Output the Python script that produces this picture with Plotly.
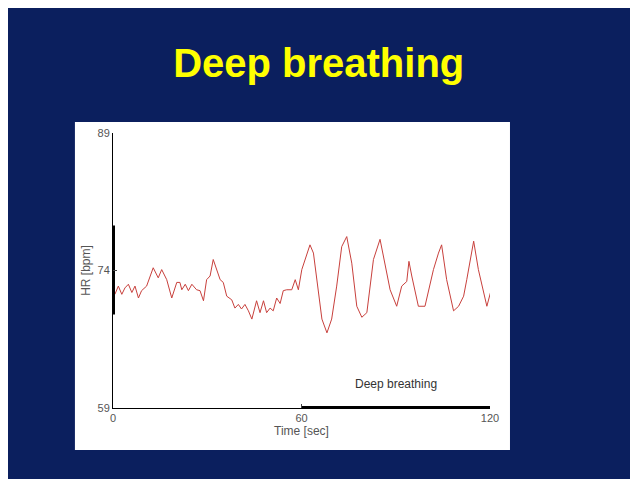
import plotly.graph_objects as go

# heart rate trace
time_s = [0.6, 1.7, 2.8, 3.8, 4.9, 6.0, 7.0, 8.1, 9.1, 10.7, 12.8, 14.4, 15.5, 17.1, 18.7,
          20.3, 21.3, 21.9, 23.0, 24.0, 25.1, 26.6, 27.7, 28.8, 29.8, 30.9, 31.9, 33.0, 34.1,
          35.1, 36.2, 37.8, 38.8, 39.9, 40.9, 42.0, 43.1, 44.2, 45.7, 46.8, 47.9, 48.9, 50.0,
          51.0, 52.1, 53.2, 54.2, 55.3, 56.9, 58.0, 59.0, 60.1, 61.7, 62.7,
          63.8, 65.4, 66.5, 68.1, 69.6, 71.2, 72.8, 74.4, 76.0, 77.6, 79.2, 80.8, 82.9, 85.0,
          86.6, 88.2, 90.3, 91.9, 93.5, 94.2, 95.1, 97.2, 99.3, 100.9, 102.0, 103.6, 104.6,
          106.2, 108.4, 110.0, 111.6, 112.6, 114.8, 116.3, 119.0, 121.0]
hr_bpm = [71.4, 72.3, 71.4, 72.1, 72.5, 71.6, 72.3, 71.0, 71.8, 72.3, 74.3, 73.2, 74.1, 73.0, 71.0,
          72.7, 72.7, 71.9, 72.5, 71.8, 72.5, 71.9, 71.8, 70.7, 73.0, 73.4, 75.2, 74.1, 73.0,
          72.7, 71.2, 70.8, 69.9, 70.3, 69.8, 70.3, 69.6, 68.7, 70.7, 69.4, 70.7, 69.4, 69.9,
          69.6, 71.0, 70.4, 71.8, 71.9, 71.9, 73.0, 71.9, 74.1, 75.9, 76.8,
          75.9, 71.6, 68.7, 67.2, 68.7, 72.3, 76.6, 77.7, 74.8, 70.1, 68.9, 69.4, 75.2, 77.4,
          74.5, 71.9, 70.1, 72.3, 72.8, 75.0, 73.4, 70.1, 70.1, 72.3, 74.1, 75.9, 76.8,
          73.0, 69.6, 70.1, 71.2, 73.0, 77.2, 74.1, 70.1, 72.7]
x_ticks = [0, 60, 120]
y_ticks = [59, 74, 89]
baseline_bar = [69.2, 78.9]
deep_bar = [60, 120]

fig = go.Figure()
fig.add_scatter(x=time_s, y=hr_bpm, mode='lines',
                line=dict(color='#c8403c', width=1), showlegend=False)
fig.add_scatter(x=[0, 0], y=baseline_bar, mode='lines',
                line=dict(color='black', width=4), showlegend=False, cliponaxis=False)
fig.add_scatter(x=deep_bar, y=[59, 59], mode='lines',
                line=dict(color='black', width=4), showlegend=False, cliponaxis=False)
fig.add_annotation(x=90, y=61.6, text='Deep breathing', showarrow=False,
                   font=dict(size=12, color='#333333', family='Liberation Sans'))

# white panel behind the chart
fig.add_shape(type='rect', xref='paper', yref='paper', x0=-0.101, x1=1.053, y0=-0.153, y1=1.04,
              fillcolor='white', line=dict(width=0), layer='below')

fig.update_layout(
    width=638, height=479,
    paper_bgcolor='#0b1f5e', plot_bgcolor='rgba(0,0,0,0)',
    margin=dict(l=105, r=156, t=125, b=79),
    title=dict(text='<b>Deep breathing</b>', x=0.487, xref='container', xanchor='center',
               y=0.885, yanchor='middle',
               font=dict(size=40, color='#ffff00', family='Liberation Sans')),
    font=dict(family='Liberation Sans', size=11, color='#555555'),
)
fig.update_xaxes(range=[0, 120], tickvals=x_ticks, showgrid=False, zeroline=False,
                 showline=True, linecolor='black', ticks='inside', ticklen=4,
                 title=dict(text='Time [sec]', standoff=2, font=dict(size=12, color='#555555')))
fig.update_yaxes(range=[59, 89], tickvals=y_ticks, showgrid=False, zeroline=False,
                 showline=True, linecolor='black', ticks='inside', ticklen=4,
                 title=dict(text='HR [bpm]', standoff=4, font=dict(size=12, color='#555555')))
fig.write_html("out.html")
